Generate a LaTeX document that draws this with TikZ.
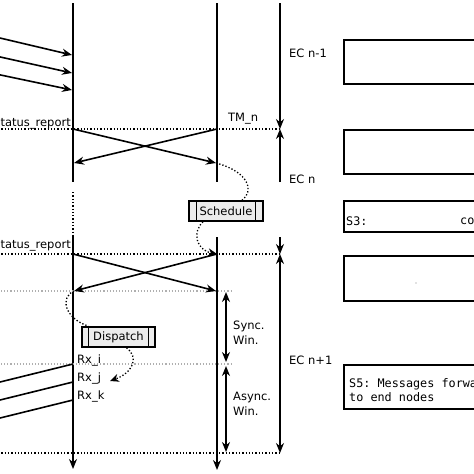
\documentclass[tikz,border=0pt]{standalone}
\usepackage{fontspec}
\setmainfont{DejaVu Sans}
\setmonofont{DejaVu Sans Mono}
\usepackage{tikz}
\usetikzlibrary{positioning, arrows.meta}
\definecolor{boxgray}{RGB}{236,236,236}
\definecolor{dotgray}{RGB}{175,175,175}

\begin{document}
\begin{tikzpicture}[x=1pt, y=-1pt,
    life/.style={line width=1.8pt},
    msg/.style={-{Stealth[length=10pt,width=8pt]}, line width=1.6pt},
    span/.style={{Stealth[length=10pt,width=8pt]}-{Stealth[length=10pt,width=8pt]}, line width=1.6pt},
    slot/.style={dotted, line width=1.3pt},
    slotlight/.style={dotted, line width=1.1pt, color=dotgray},
    hop/.style={dotted, line width=1.3pt, -{Stealth[length=9pt,width=8pt]}},
    proc/.style={draw, line width=1.6pt, fill=boxgray, minimum height=20pt, inner sep=0pt,
                 font=\fontsize{11.5}{13}\selectfont},
    lbl/.style={font=\fontsize{11.5}{15}\selectfont, inner sep=0pt, align=left},
    stage/.style={draw, line width=1.6pt, anchor=north west, minimum width=140pt, inner sep=0pt},
    note/.style={font=\ttfamily\fontsize{11.8}{14}\selectfont, inner sep=0pt, align=left}]
  \useasboundingbox (0,0) rectangle (474,474);
  \clip (0,0) rectangle (474,474);

  \coordinate (gw0) at (73,3);   \coordinate (gw1) at (73,182);
  \coordinate (gw2) at (73,192); \coordinate (gw3) at (73,236);
  \coordinate (gw4) at (73,469);
  \coordinate (tm0) at (217,3);  \coordinate (tm1) at (217,182);
  \coordinate (tm2) at (217,237); \coordinate (tm3) at (217,470);
  \coordinate (ec0) at (280,3);  \coordinate (ecA) at (280,129);
  \coordinate (ec1) at (280,182); \coordinate (ec2) at (280,237);
  \coordinate (ecB) at (280,254); \coordinate (ecC) at (280,453);

  \draw[life] (gw0) -- (gw1);
  \draw[slot] (gw2) -- (gw3);
  \draw[life, msg] (gw3) -- (gw4);
  \draw[life] (tm0) -- (tm1);
  \draw[life, msg] (tm2) -- (tm3);

  \draw[msg] (ec0) -- (ecA);
  \draw[msg] (ec1) -- (ecA);
  \draw[msg] (ec2) -- (ecB);
  \draw[span] (ecB) -- (ecC);
  \node[lbl, anchor=west] (lec1) at (289,53) {EC n-1};
  \node[lbl, anchor=west] (lec2) at (289,179) {EC n};
  \node[lbl, anchor=west] (lec3) at (289,360) {EC n+1};

  \coordinate (in1) at (-6,36.6); \coordinate (gi1) at (72,55);
  \coordinate (in2) at (-6,55.6); \coordinate (gi2) at (72,73);
  \coordinate (in3) at (-6,73.6); \coordinate (gi3) at (72,90);
  \draw[msg] (in1) -- (gi1);
  \draw[msg] (in2) -- (gi2);
  \draw[msg] (in3) -- (gi3);

  \coordinate (w1) at (-2,129);
  \coordinate (w2) at (-2,254);
  \coordinate (w3) at (-2,291); \coordinate (e3) at (233,291);
  \coordinate (w4) at (-2,364); \coordinate (e4) at (233,364);
  \coordinate (w5) at (-2,453);
  \draw[slot] (w1) -- (ecA);
  \draw[slot] (w2) -- (ecB);
  \draw[slotlight] (w3) -- (e3);
  \draw[slotlight] (w4) -- (e4);
  \draw[slot] (w5) -- (ecC);

  \node[lbl, anchor=base east] (rep1) at (71,126) {status\_report};
  \node[lbl, anchor=base east] (rep2) at (71,248) {status\_report};
  \node[lbl, anchor=base west] (tmn) at (228,121) {TM\_n};

  \coordinate (gs1) at (73,129);  \coordinate (ts1) at (217,129);
  \coordinate (gr1) at (74,163);  \coordinate (tr1) at (216,163);
  \draw[msg] (gs1) -- (tr1);
  \draw[msg] (ts1) -- (gr1);
  \coordinate (gs2) at (73,254);  \coordinate (ts2) at (217,254);
  \coordinate (gr2) at (74,291);  \coordinate (tr2) at (216,291);
  \draw[msg] (gs2) -- (tr2);
  \draw[msg] (ts2) -- (gr2);

  \node[proc, minimum width=74pt] (sched) at (226,211) {Schedule};
  \draw[line width=1.3pt] ([xshift=8pt]sched.north west) -- ([xshift=8pt]sched.south west);
  \draw[line width=1.3pt] ([xshift=-8pt]sched.north east) -- ([xshift=-8pt]sched.south east);
  \node[proc, minimum width=73pt] (disp) at (118.5,337) {Dispatch};
  \draw[line width=1.3pt] ([xshift=7pt]disp.north west) -- ([xshift=7pt]disp.south west);
  \draw[line width=1.3pt] ([xshift=-7pt]disp.north east) -- ([xshift=-7pt]disp.south east);

  \draw[slot] (tr1) .. controls (250,172) and (254,192) .. ([xshift=16pt]sched.north);
  \draw[hop] ([xshift=-23pt]sched.south) .. controls (192,232) and (196,250) .. (ts2);
  \draw[slot] (gr2) .. controls (60,297) and (64,318) .. ([xshift=-30pt]disp.north);
  \draw[hop] ([xshift=8pt]disp.south) .. controls (140,358) and (132,373) .. (110,381);

  \node[lbl, anchor=west] (rxi) at (77,360) {Rx\_i};
  \node[lbl, anchor=west] (rxj) at (77,378) {Rx\_j};
  \node[lbl, anchor=west] (rxk) at (77,396) {Rx\_k};
  \coordinate (ri0) at (-6,383.5); \coordinate (ri1) at (73,364);
  \coordinate (rj0) at (-6,401.5); \coordinate (rj1) at (73,382);
  \coordinate (rk0) at (-6,419.5); \coordinate (rk1) at (73,400);
  \draw[line width=1.6pt] (ri0) -- (ri1);
  \draw[line width=1.6pt] (rj0) -- (rj1);
  \draw[line width=1.6pt] (rk0) -- (rk1);

  \coordinate (sw0) at (226,292); \coordinate (sw1) at (226,362);
  \coordinate (aw0) at (226,366); \coordinate (aw1) at (226,452);
  \draw[span] (sw0) -- (sw1);
  \draw[span] (aw0) -- (aw1);
  \node[lbl, anchor=west] (sync) at (233,333) {Sync.\\Win.};
  \node[lbl, anchor=west] (async) at (233,404) {Async.\\Win.};

  \node[stage, minimum height=44pt] (st1) at (343,39) {};
  \node[stage, minimum height=44pt] (st2) at (343,129) {};
  \node[stage, minimum height=31pt] (st3) at (343,200) {};
  \node[stage, minimum height=45pt] (st4) at (343,255) {};
  \node[stage, minimum height=44pt] (st5) at (343,364) {};
  \node[note, anchor=west] (n3a) at (346,221) {S3:};
  \node[note, anchor=west] (n3b) at (460,221) {co};
  \fill[gray] (416,283) circle (0.6pt);
  \node[note, anchor=west] (n5) at (349,390) {S5: Messages forwarded\\to end nodes};
\end{tikzpicture}
\end{document}
